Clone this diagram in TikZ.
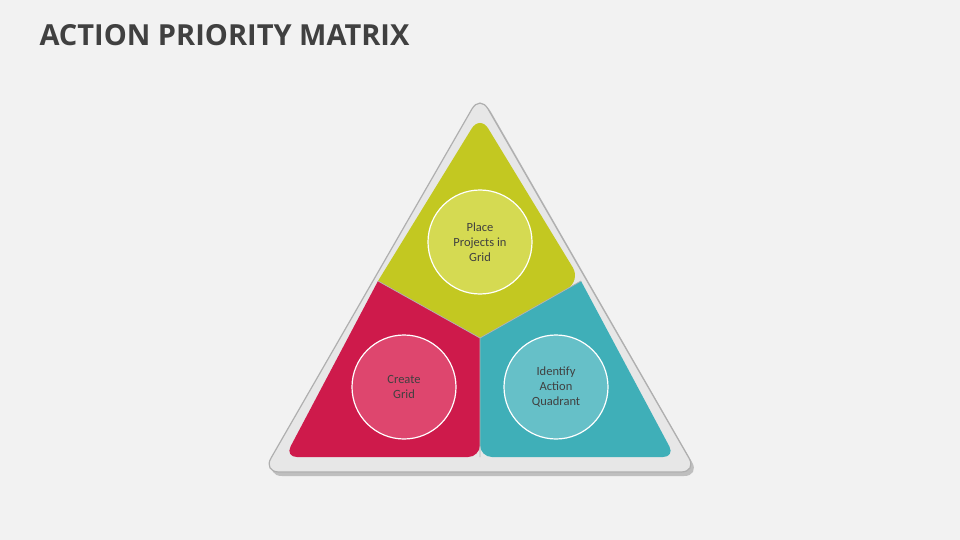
\documentclass[tikz,border=0pt]{standalone}
\usepackage{fontspec}
\setmainfont{Carlito}
\newfontfamily\titlefont{Open Sans}
\definecolor{bg}{RGB}{242,242,242}
\definecolor{ttl}{RGB}{64,64,64}
\definecolor{outerf}{RGB}{231,231,231}
\definecolor{outerd}{RGB}{175,175,175}
\definecolor{ygreen}{RGB}{195,200,33}
\definecolor{red1}{RGB}{206,26,75}
\definecolor{teal1}{RGB}{63,175,184}
\definecolor{ygreenL}{RGB}{213,218,82}
\definecolor{redL}{RGB}{222,70,110}
\definecolor{tealL}{RGB}{102,192,200}
\begin{document}
\begin{tikzpicture}[x=1pt,y=-1pt,
  circ/.style={circle,draw=white,line width=1.2pt,minimum size=104pt,align=center,text=black!75,font=\fontsize{12.5}{15}\selectfont}]
\useasboundingbox[fill=bg] (0,0) rectangle (960,540);
\node[anchor=west,font=\titlefont\bfseries\fontsize{29}{32}\selectfont,text=ttl] (title) at (36,35) {ACTION PRIORITY MATRIX};
\fill[black!25,rounded corners=16] (483,98) -- (700,476) -- (266,476) -- cycle;
\draw[fill=outerf,draw=outerd,line width=1.2pt,rounded corners=16] (480,95) -- (697,472) -- (263,472) -- cycle;
\fill[ygreen] (378,281) [rounded corners=16] -- (480,115) -- (581,281) [sharp corners] -- (480,338) -- cycle;
\fill[red1] (480,338) -- (378,281) [rounded corners=12] -- (285,457) -- (480,457) [sharp corners] -- cycle;
\fill[teal1] (480,338) -- (581,281) [rounded corners=12] -- (675,457) -- (480,457) [sharp corners] -- cycle;
\draw[black!30,line width=0.8pt] (378,281) -- (480,338) -- (581,281) (480,338) -- (480,457);
\node[circ,fill=ygreenL] (c1) at (480,242) {Place\\Projects in\\Grid};
\node[circ,fill=redL] (c2) at (404,387) {Create\\Grid};
\node[circ,fill=tealL] (c3) at (556,387) {Identify\\Action\\Quadrant};
\end{tikzpicture}
\end{document}
